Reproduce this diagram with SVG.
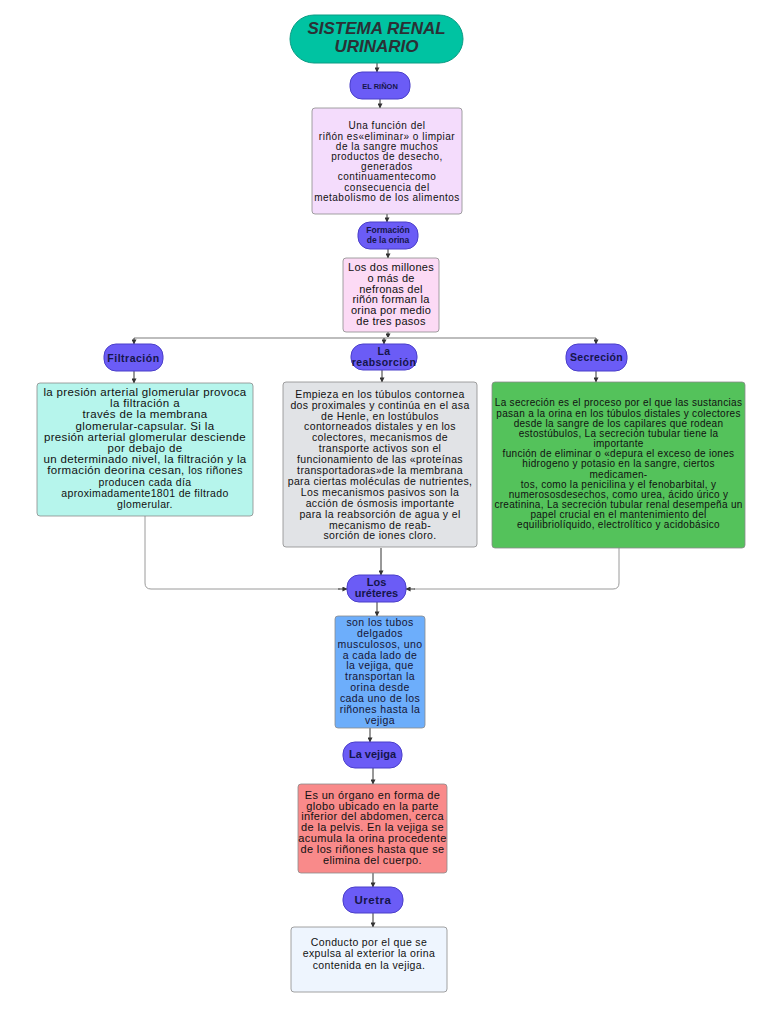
<svg xmlns="http://www.w3.org/2000/svg" width="768" height="1024" viewBox="0 0 768 1024">
<defs>
<marker id="ah" viewBox="0 0 6 6" refX="5.5" refY="3" markerWidth="5" markerHeight="5" orient="auto" markerUnits="userSpaceOnUse">
<path d="M0,0 L6,3 L0,6 z" fill="#333"/>
</marker>
</defs>
<style>
text{font-family:"Liberation Sans",Arial,sans-serif;text-anchor:middle}
.pill{fill:#6b5cf6;stroke:#4a3ec9;stroke-width:1}
.pt{font-weight:bold;fill:#15154a}
.box{stroke:#8a8a8a;stroke-width:0.8}
.bt{fill:#111}
.c{fill:none;stroke:#333;stroke-width:1;marker-end:url(#ah)}
.g{fill:none;stroke:#bdbdbd;stroke-width:2}
.m{fill:none;stroke:#9a9a9a;stroke-width:1}
</style>
<rect width="768" height="1024" fill="#ffffff"/>

<g id="connectors">
<path class="c" d="M377 63 V72"/>
<path class="c" d="M380 99 V108"/>
<path class="c" d="M387 214 V222"/>
<path class="c" d="M388 249 V258"/>
<path class="c" d="M388 332 V338"/>
<path class="g" d="M134 338 H596"/>
<path class="c" d="M134 338 V344"/>
<path class="c" d="M384 338 V344"/>
<path class="c" d="M596 338 V344"/>
<path class="c" d="M134 371 V383"/>
<path class="c" d="M382 370 V382"/>
<path class="c" d="M596 371 V382"/>
<path class="m" d="M145 516 V583 Q145 589 151 589 H340"/>
<path class="c" d="M338 589 H347"/>
<path class="c" d="M381 548 V575"/>
<path class="m" d="M619 548 V583 Q619 589 613 589 H414"/>
<path class="c" d="M415 589 H406"/>
<path class="c" d="M377 602 V616"/>
<path class="c" d="M370 728 V742"/>
<path class="c" d="M373 768 V784"/>
<path class="c" d="M373 873 V887"/>
<path class="c" d="M373 913 V927"/>
</g>

<g id="title">
<rect x="290" y="15" width="173" height="48" rx="24" fill="#00c3a2" stroke="#0a9c84" stroke-width="1"/>
<text x="376.5" y="34" font-size="17" font-weight="bold" font-style="italic" fill="#2b3035">SISTEMA RENAL</text>
<text x="376.5" y="52" font-size="17" font-weight="bold" font-style="italic" fill="#2b3035">URINARIO</text>
</g>

<g id="el-rinon">
<rect class="pill" x="350" y="72" width="60" height="27" rx="12"/>
<text class="pt" x="380" y="88.5" font-size="7.5">EL RIÑON</text>
</g>

<g id="box-funcion">
<rect class="box" x="312" y="108" width="150" height="106" rx="3" fill="#f4dcfc"/>
<g class="bt" font-size="10" letter-spacing="0.5">
<text x="387" y="129.3">Una función del</text>
<text x="387" y="139.5">riñón es«eliminar» o limpiar</text>
<text x="387" y="149.7">de la sangre muchos</text>
<text x="387" y="159.9">productos de desecho,</text>
<text x="387" y="170.1">generados</text>
<text x="387" y="180.3">continuamentecomo</text>
<text x="387" y="190.5">consecuencia del</text>
<text x="387" y="200.7">metabolismo de los alimentos</text>
</g>
</g>

<g id="formacion">
<rect class="pill" x="358" y="222" width="60" height="27" rx="12"/>
<text class="pt" x="388" y="233" font-size="8.5">Formación</text>
<text class="pt" x="388" y="242.5" font-size="8.5">de la orina</text>
</g>

<g id="box-nefronas">
<rect class="box" x="343" y="258" width="96" height="74" rx="3" fill="#fcdaf5"/>
<g class="bt" font-size="11" letter-spacing="0.25">
<text x="391" y="271">Los dos millones</text>
<text x="391" y="281.8">o más de</text>
<text x="391" y="292.6">nefronas del</text>
<text x="391" y="303.4">riñón forman la</text>
<text x="391" y="314.2">orina por medio</text>
<text x="391" y="325">de tres pasos</text>
</g>
</g>

<g id="filtracion">
<rect class="pill" x="104" y="344" width="59" height="27" rx="12"/>
<text class="pt" x="133.5" y="361.5" font-size="10.5" letter-spacing="0.5">Filtración</text>
</g>

<g id="reabsorcion">
<rect class="pill" x="351" y="344" width="66" height="26" rx="12"/>
<text class="pt" x="384" y="355" font-size="10.5" letter-spacing="0.4">La</text>
<text class="pt" x="384" y="366" font-size="10.5" letter-spacing="0.4">reabsorción</text>
</g>

<g id="secrecion">
<rect class="pill" x="566" y="344" width="61" height="27" rx="12"/>
<text class="pt" x="596.5" y="360.5" font-size="10.5" letter-spacing="0.3">Secreción</text>
</g>

<g id="box-filtracion">
<rect class="box" x="37" y="383" width="216" height="133" rx="3" fill="#b6f5ec"/>
<g class="bt" font-size="11.5" letter-spacing="0.35">
<text x="145" y="396">la presión arterial glomerular provoca</text>
<text x="145" y="407.2">la filtración a</text>
<text x="145" y="418.4">través de la membrana</text>
<text x="145" y="429.6">glomerular-capsular. Si la</text>
<text x="145" y="440.8">presión arterial glomerular desciende</text>
<text x="145" y="452">por debajo de</text>
<text x="145" y="463.2">un determinado nivel, la filtración y la</text>
<text x="145" y="474.4">formación deorina cesan, <tspan font-size="10.5">los riñones</tspan></text>
<text x="145" y="485.6" font-size="10.5">producen cada día</text>
<text x="145" y="496.8" font-size="10.5">aproximadamente1801 de filtrado</text>
<text x="145" y="508" font-size="10.5">glomerular.</text>
</g>
</g>

<g id="box-reabsorcion">
<rect class="box" x="283" y="382" width="194" height="165" rx="3" fill="#e1e3e6"/>
<g class="bt" font-size="10.5" letter-spacing="0.35">
<text x="380" y="397.7">Empieza en los túbulos contornea</text>
<text x="380" y="408.6">dos proximales y continúa en el asa</text>
<text x="380" y="419.5">de Henle, en lostúbulos</text>
<text x="380" y="430.4">contorneados distales y en los</text>
<text x="380" y="441.3">colectores, mecanismos de</text>
<text x="380" y="452.2">transporte activos son el</text>
<text x="380" y="463.1">funcionamiento de las «proteínas</text>
<text x="380" y="474">transportadoras»de la membrana</text>
<text x="380" y="484.9">para ciertas moléculas de nutrientes,</text>
<text x="380" y="495.8">Los mecanismos pasivos son la</text>
<text x="380" y="506.7">acción de ósmosis importante</text>
<text x="380" y="517.6">para la reabsorción de agua y el</text>
<text x="380" y="528.5">mecanismo de reab-</text>
<text x="380" y="539.4">sorción de iones cloro.</text>
</g>
</g>

<g id="box-secrecion">
<rect class="box" x="492" y="382" width="253" height="166" rx="3" fill="#54c25b" stroke="#3e9e45"/>
<g class="bt" font-size="10" letter-spacing="0.3">
<text x="618.5" y="406.4">La secreción es el proceso por el que las sustancias</text>
<text x="618.5" y="416.6">pasan a la orina en los túbulos distales y colectores</text>
<text x="618.5" y="426.7">desde la sangre de los capilares que rodean</text>
<text x="618.5" y="436.9">estostúbulos, La secreción tubular tiene la</text>
<text x="618.5" y="447.1">importante</text>
<text x="618.5" y="457.2">función de eliminar o «depura el exceso de iones</text>
<text x="618.5" y="467.4">hidrogeno y potasio en la sangre, ciertos</text>
<text x="618.5" y="477.6">medicamen-</text>
<text x="618.5" y="487.8">tos, como la penicilina y el fenobarbital, y</text>
<text x="618.5" y="497.9">numerososdesechos, como urea, ácido úrico y</text>
<text x="618.5" y="508.1">creatinina, La secreción tubular renal desempeña un</text>
<text x="618.5" y="518.3">papel crucial en el mantenimiento del</text>
<text x="618.5" y="528.4">equilibriolíquido, electrolítico y acidobásico</text>
</g>
</g>

<g id="ureteres">
<rect class="pill" x="347" y="575" width="59" height="27" rx="12"/>
<text class="pt" x="376.5" y="586" font-size="11">Los</text>
<text class="pt" x="376.5" y="597" font-size="11">uréteres</text>
</g>

<g id="box-ureteres">
<rect class="box" x="335" y="616" width="90" height="112" rx="3" fill="#6daefb" stroke="#4a7fbf"/>
<g font-size="10.5" letter-spacing="0.4" fill="#151535">
<text x="380" y="625.8">son los tubos</text>
<text x="380" y="636.7">delgados</text>
<text x="380" y="647.6">musculosos, uno</text>
<text x="380" y="658.5">a cada lado de</text>
<text x="380" y="669.4">la vejiga, que</text>
<text x="380" y="680.3">transportan la</text>
<text x="380" y="691.2">orina desde</text>
<text x="380" y="702.1">cada uno de los</text>
<text x="380" y="713">riñones hasta la</text>
<text x="380" y="723.9">vejiga</text>
</g>
</g>

<g id="vejiga">
<rect class="pill" x="343" y="742" width="59" height="26" rx="12"/>
<text class="pt" x="372.5" y="758" font-size="11">La vejiga</text>
</g>

<g id="box-vejiga">
<rect class="box" x="298" y="784" width="149" height="89" rx="3" fill="#f98a8a" stroke="#c06a6a"/>
<g class="bt" font-size="11" letter-spacing="0.35">
<text x="372.5" y="798.8">Es un órgano en forma de</text>
<text x="372.5" y="809.6">globo ubicado en la parte</text>
<text x="372.5" y="820.4">inferior del abdomen, cerca</text>
<text x="372.5" y="831.2">de la pelvis. En la vejiga se</text>
<text x="372.5" y="842">acumula la orina procedente</text>
<text x="372.5" y="852.8">de los riñones hasta que se</text>
<text x="372.5" y="863.6">elimina del cuerpo.</text>
</g>
</g>

<g id="uretra">
<rect class="pill" x="343" y="887" width="60" height="26" rx="12"/>
<text class="pt" x="373" y="903.5" font-size="11.5" letter-spacing="0.5">Uretra</text>
</g>

<g id="box-uretra">
<rect class="box" x="291" y="927" width="156" height="65" rx="3" fill="#eef5fe"/>
<g class="bt" font-size="10.5" letter-spacing="0.35">
<text x="369" y="945.7">Conducto por el que se</text>
<text x="369" y="957.2">expulsa al exterior la orina</text>
<text x="369" y="968.7">contenida en la vejiga.</text>
</g>
</g>
</svg>
